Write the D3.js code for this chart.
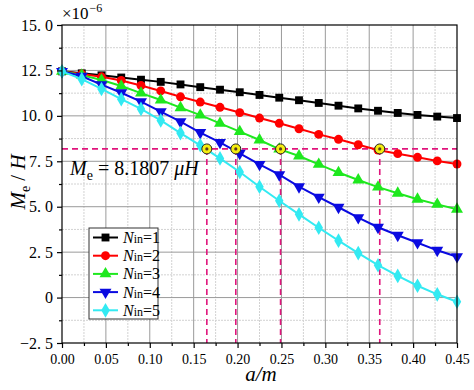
<!DOCTYPE html>
<html>
<head>
<meta charset="utf-8">
<script src="https://cdn.jsdelivr.net/npm/d3@7"></script>
<style>
	body { margin: 0; background: #fff; }
</style>
</head>
<body>
<svg id="chart-svg"></svg>
<script>
'use strict'

// a/m positions of the computed points
var aValues = [0, 0.0225, 0.045, 0.0675, 0.09, 0.1125, 0.135, 0.1575, 0.18, 0.2025, 0.225,
	0.2475, 0.27, 0.2925, 0.315, 0.3375, 0.36, 0.3825, 0.405, 0.4275, 0.45];

// Me/H in units of 1e-6
var nin1 = [12.45, 12.34, 12.23, 12.11, 11.99, 11.87, 11.73, 11.58, 11.44, 11.30, 11.15,
	11.00, 10.86, 10.71, 10.56, 10.41, 10.28, 10.16, 10.05, 9.96, 9.88];
var nin2 = [12.45, 12.30, 12.15, 11.95, 11.67, 11.37, 11.05, 10.76, 10.47, 10.18, 9.88,
	9.59, 9.29, 8.98, 8.71, 8.41, 8.12, 7.92, 7.72, 7.52, 7.35];
var nin3 = [12.45, 12.24, 11.97, 11.64, 11.25, 10.87, 10.45, 10.04, 9.59, 9.13, 8.67,
	8.17, 7.79, 7.33, 6.88, 6.47, 6.08, 5.74, 5.41, 5.13, 4.86];
var nin4 = [12.45, 12.18, 11.72, 11.27, 10.78, 10.23, 9.68, 9.08, 8.54, 7.94, 7.33,
	6.76, 6.10, 5.53, 4.97, 4.40, 3.87, 3.43, 3.02, 2.60, 2.25];
var nin5 = [12.45, 12.02, 11.48, 10.92, 10.38, 9.75, 9.05, 8.38, 7.66, 6.91, 6.10,
	5.33, 4.58, 3.84, 3.13, 2.45, 1.78, 1.19, 0.65, 0.18, -0.23];

var seriesNames = ["1", "2", "3", "4", "5"];
var seriesValues = [nin1, nin2, nin3, nin4, nin5];
var seriesColors = ["#000000", "#ff0000", "#1ee81e", "#0a0ae0", "#33eaf2"];
var seriesSymbols = [d3.symbolSquare, d3.symbolCircle, d3.symbolTriangle, d3.symbolTriangle, d3.symbolDiamond];

// Me = 8.1807 uH crossing points
var meLevel = 8.1807;
var crossA = [0.165, 0.198, 0.249, 0.362];

var xTicks = [0, 0.05, 0.10, 0.15, 0.20, 0.25, 0.30, 0.35, 0.40, 0.45];
var yTicks = [-2.5, 0, 2.5, 5.0, 7.5, 10.0, 12.5, 15.0];

var WIDTH = 474,
	HEIGHT = 390;

var FONT = '"Liberation Serif", "DejaVu Serif", serif';

var margin = {
	top: 25,
	right: 17,
	bottom: 47,
	left: 62,
};

var svg = d3.select("#chart-svg")
	.attr('width', WIDTH)
	.attr('height', HEIGHT)
	.style('font-family', FONT);

var x = d3.scaleLinear()
	.domain([0, 0.45])
	.range([margin.left, WIDTH - margin.right]);

var y = d3.scaleLinear()
	.domain([-2.5, 15])
	.range([HEIGHT - margin.bottom, margin.top]);

// grid
var minorX = d3.range(0.025, 0.45, 0.05);
var minorY = d3.range(-1.25, 15, 2.5);

var grid = svg.append('g');

grid.selectAll('.minor-x')
	.data(minorX)
	.enter()
	.append('line')
	.attr('x1', function (d) { return x(d); })
	.attr('x2', function (d) { return x(d); })
	.attr('y1', y(-2.5))
	.attr('y2', y(15))
	.style('stroke', '#d2d2d2')
	.style('stroke-dasharray', '2,1');

grid.selectAll('.minor-y')
	.data(minorY)
	.enter()
	.append('line')
	.attr('x1', x(0))
	.attr('x2', x(0.45))
	.attr('y1', function (d) { return y(d); })
	.attr('y2', function (d) { return y(d); })
	.style('stroke', '#d2d2d2')
	.style('stroke-dasharray', '2,1');

grid.selectAll('.major-x')
	.data(xTicks.slice(1, -1))
	.enter()
	.append('line')
	.attr('x1', function (d) { return x(d); })
	.attr('x2', function (d) { return x(d); })
	.attr('y1', y(-2.5))
	.attr('y2', y(15))
	.style('stroke', '#9a9a9a');

grid.selectAll('.major-y')
	.data(yTicks.slice(1, -1))
	.enter()
	.append('line')
	.attr('x1', x(0))
	.attr('x2', x(0.45))
	.attr('y1', function (d) { return y(d); })
	.attr('y2', function (d) { return y(d); })
	.style('stroke', '#9a9a9a');

// dashed guide lines
var pink = '#e0157c';

svg.append('line')
	.attr('x1', x(0))
	.attr('x2', x(0.45))
	.attr('y1', y(meLevel))
	.attr('y2', y(meLevel))
	.style('stroke', pink)
	.style('stroke-width', 1.6)
	.style('stroke-dasharray', '6,4');

svg.selectAll('.vdash')
	.data(crossA)
	.enter()
	.append('line')
	.attr('x1', function (d) { return x(d); })
	.attr('x2', function (d) { return x(d); })
	.attr('y1', y(meLevel))
	.attr('y2', y(-2.5))
	.style('stroke', pink)
	.style('stroke-width', 1.6)
	.style('stroke-dasharray', '6,4');

// series
var line = d3.line()
	.x(function (d) { return x(d[0]); })
	.y(function (d) { return y(d[1]); });

seriesValues.forEach(function (vals, k) {
	var pts = aValues.map(function (a, i) { return [a, vals[i]]; });
	var color = seriesColors[k];

	svg.append('path')
		.attr('d', line(pts))
		.style('fill', 'none')
		.style('stroke', color)
		.style('stroke-width', 2);

	var sym = d3.symbol().type(seriesSymbols[k]).size(62);

	svg.selectAll('.mk' + k)
		.data(pts)
		.enter()
		.append('path')
		.attr('d', sym)
		.attr('transform', function (d) {
			return 'translate(' + x(d[0]) + ',' + y(d[1]) + ')' + (k === 3 ? ' rotate(180)' : '');
		})
		.style('fill', color);
});

// crossing markers
var cross = svg.selectAll('.cross')
	.data(crossA)
	.enter()
	.append('g')
	.attr('transform', function (d) { return 'translate(' + x(d) + ',' + y(meLevel) + ')'; });

cross.append('circle')
	.attr('r', 5)
	.style('fill', '#f5ee10')
	.style('stroke', '#222')
	.style('stroke-width', 1);

cross.append('circle')
	.attr('r', 1.6)
	.style('fill', '#5a3a20');

// frame
svg.append('rect')
	.attr('x', x(0))
	.attr('y', y(15))
	.attr('width', x(0.45) - x(0))
	.attr('height', y(-2.5) - y(15))
	.style('fill', 'none')
	.style('stroke', '#000')
	.style('stroke-width', 1.2);

// axes
var fmtY = function (d) {
	if (d === 0) return '0';
	return d3.format('.1f')(d).replace('.', '.\u00a0').replace('-', '\u2212');
};

var yAxis = svg.append('g')
	.attr('transform', 'translate(' + x(0) + ',0)')
	.call(d3.axisLeft(y).tickValues(yTicks).tickFormat(fmtY).tickSize(5).tickPadding(4));

yAxis.append('g')
	.call(d3.axisLeft(y).tickValues(minorY).tickFormat('').tickSize(3));

var xAxis = svg.append('g')
	.attr('transform', 'translate(0,' + y(-2.5) + ')')
	.call(d3.axisBottom(x).tickValues(xTicks).tickFormat(d3.format('.2f')).tickSize(5).tickPadding(6));

xAxis.append('g')
	.call(d3.axisBottom(x).tickValues(minorX).tickFormat('').tickSize(3));

svg.selectAll('.domain').remove();
svg.selectAll('.tick line').style('stroke', '#000').style('stroke-width', 1.2);

yAxis.selectAll('text')
	.style('font-size', '16px')
	.style('fill', '#000');

xAxis.selectAll('text')
	.style('font-size', '14px')
	.style('fill', '#000');

// exponent
var expo = svg.append('text')
	.attr('x', 62)
	.attr('y', 19)
	.attr('font-size', 17)
	.style('font-size', '17px');
expo.append('tspan').text('\u00d710');
expo.append('tspan').attr('dx', 1).attr('dy', -7).style('font-size', '12px').text('\u22126');

// axis titles
var yTitle = svg.append('text')
	.attr('transform', 'translate(25,182) rotate(-90)')
	.attr('text-anchor', 'middle')
	.style('font-size', '21px');
yTitle.append('tspan').style('font-style', 'italic').text('M');
yTitle.append('tspan').attr('dy', 5).style('font-size', '14px').text('e');
yTitle.append('tspan').attr('dy', -5).text(' / ');
yTitle.append('tspan').style('font-style', 'italic').text('H');

svg.append('text')
	.attr('x', 261)
	.attr('y', 381)
	.attr('text-anchor', 'middle')
	.style('font-size', '21px')
	.style('font-style', 'italic')
	.text('a/m');

// annotation
var note = svg.append('text')
	.attr('x', 70)
	.attr('y', 175)
	.style('font-size', '20px');
note.append('tspan').style('font-style', 'italic').text('M');
note.append('tspan').attr('dy', 5).style('font-size', '14px').text('e');
note.append('tspan').attr('dy', -5).text(' = 8.1807 ');
note.append('tspan').style('font-style', 'italic').text('\u03bcH');

// legend
var legend = svg.append('g')
	.attr('transform', 'translate(89,228)');

legend.append('rect')
	.attr('width', 69)
	.attr('height', 91)
	.style('fill', '#fff')
	.style('stroke', '#333')
	.style('stroke-width', 1);

var items = legend.selectAll('.item')
	.data(seriesNames)
	.enter()
	.append('g')
	.attr('transform', function (d, i) { return 'translate(0,' + (9.5 + i * 18.2) + ')'; });

items.append('line')
	.attr('x1', 4)
	.attr('x2', 29)
	.style('stroke', function (d, i) { return seriesColors[i]; })
	.style('stroke-width', 2);

items.append('path')
	.attr('d', function (d, i) { return d3.symbol().type(seriesSymbols[i]).size(62)(); })
	.attr('transform', function (d, i) { return 'translate(16.5,0)' + (i === 3 ? ' rotate(180)' : ''); })
	.style('fill', function (d, i) { return seriesColors[i]; });

var lt = items.append('text')
	.attr('x', 34)
	.attr('y', 5.5)
	.style('font-size', '16px');
lt.append('tspan').style('font-style', 'italic').text('N');
lt.append('tspan').style('font-size', '12px').text('in');
lt.append('tspan').text(function (d) { return '=' + d; });

svg.selectAll('text').style('font-family', FONT);
</script>
</body>
</html>
